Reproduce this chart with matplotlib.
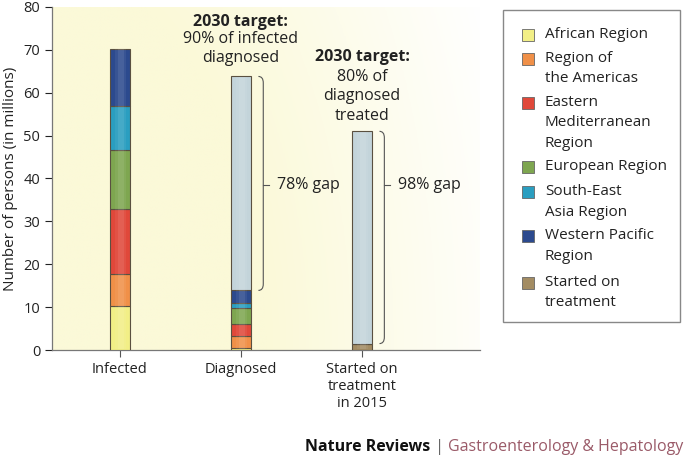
import numpy as np
import matplotlib
matplotlib.use("Agg")
import matplotlib.pyplot as plt
from matplotlib.patches import Rectangle, PathPatch
from matplotlib.path import Path
from matplotlib.colors import LinearSegmentedColormap

plt.rcParams['font.family'] = ['Open Sans', 'DejaVu Sans']

# ---------------- data ----------------
categories = ["Infected", "Diagnosed", "Started on\ntreatment\nin 2015"]
regions = ["African Region", "Region of\nthe Americas", "Eastern\nMediterranean\nRegion",
           "European Region", "South-East\nAsia Region", "Western Pacific\nRegion"]
region_colors = ["#f2ef86", "#f09048", "#e0483a", "#7ea650", "#2a9ec0", "#2c4a8e"]
infected_values = [10.2, 7.5, 15.1, 13.9, 10.2, 13.4]
diagnosed_values = [0.5, 2.8, 2.8, 3.8, 1.1, 2.9]
treated_value = 1.5
treated_label = "Started on\ntreatment"
treated_color = "#a38c63"
diagnosed_target = 63.8
treated_target = 51.0
gap_color = "#c3d4da"
gap_labels = ["78% gap", "98% gap"]
target_titles = ["2030 target:", "2030 target:"]
target_texts = ["90% of infected\ndiagnosed", "80% of\ndiagnosed\ntreated"]
ylabel = "Number of persons (in millions)"
yticks = [0, 10, 20, 30, 40, 50, 60, 70, 80]

# ---------------- figure ----------------
W, H = 685, 459
fig = plt.figure(figsize=(W / 100, H / 100), dpi=100)
fig.patch.set_facecolor("white")
ax = fig.add_axes([52 / W, 1 - 350 / H, (480 - 52) / W, (350 - 7) / H])

# background gradient
nx, ny = 300, 200
gx, gy = np.meshgrid(np.linspace(0, 1, nx), np.linspace(0, 1, ny))
r = np.sqrt((gx * 1.0) ** 2 + (gy * 0.45) ** 2)
val = np.clip(1.0 - (r - 0.5) / 0.6, 0, 1)
cmap = LinearSegmentedColormap.from_list("bg", ["#ffffff", "#fbf9d8"])
ax.imshow(val, cmap=cmap, origin="lower", extent=[0, 1, 0, 1], transform=ax.transAxes,
          aspect="auto", zorder=0, vmin=0, vmax=1)

x = np.arange(len(categories))
bw = 0.165
edge = "#5a5040"

# infected
bottom = 0
for v, c in zip(infected_values, region_colors):
    ax.bar(x[0], v, bw, bottom=bottom, color=c, edgecolor=edge, linewidth=0.8, zorder=3)
    bottom += v
# diagnosed
bottom = 0
for v, c in zip(diagnosed_values, region_colors):
    ax.bar(x[1], v, bw, bottom=bottom, color=c, edgecolor=edge, linewidth=0.8, zorder=3)
    bottom += v
diag_total = bottom
ax.bar(x[1], diagnosed_target - diag_total, bw, bottom=diag_total, color=gap_color,
       edgecolor=edge, linewidth=0.8, zorder=3)
# treated
ax.bar(x[2], treated_value, bw, color=treated_color, edgecolor=edge, linewidth=0.8, zorder=3)
ax.bar(x[2], treated_target - treated_value, bw, bottom=treated_value, color=gap_color,
       edgecolor=edge, linewidth=0.8, zorder=3)

# soft highlights for cylindrical look
for xi, tops in [(x[0], sum(infected_values)), (x[1], diagnosed_target), (x[2], treated_target)]:
    for wf, a in [(0.55, 0.06), (0.3, 0.08)]:
        ax.bar(xi + bw * 0.05, tops - 0.3, bw * wf, bottom=0.15, color="white", alpha=a,
               linewidth=0, zorder=4)


def bracket(xc, top, bot, ytick, label):
    x0 = xc + 0.145
    x1 = xc + 0.185
    xt = xc + 0.235
    rr = 1.5
    verts = [(x0, top), (x1, top), (x1, top - rr),
             (x1, bot + rr), (x1, bot), (x0, bot)]
    codes = [Path.MOVETO, Path.CURVE3, Path.CURVE3, Path.LINETO, Path.CURVE3, Path.CURVE3]
    ax.add_patch(PathPatch(Path(verts, codes), fill=False, edgecolor="#555555",
                           linewidth=0.8, zorder=3))
    ax.plot([x1, xt], [ytick, ytick], color="#555555", linewidth=0.8, zorder=3)
    ax.text(xt + 0.06, ytick, label, ha="left", va="center", fontsize=11.5, color="#222222")


bracket(x[1], diagnosed_target, diag_total, 38.4, gap_labels[0])
bracket(x[2], treated_target, treated_value, 38.4, gap_labels[1])

# target annotations
ax.text(x[1], 76.6, target_titles[0], ha="center", va="center", fontsize=11.5,
        fontweight="bold", color="#222222")
ax.text(x[1], 70.4, target_texts[0], ha="center", va="center",
        fontsize=11.5, color="#222222", linespacing=1.25)
ax.text(x[2], 68.4, target_titles[1], ha="center", va="center", fontsize=11.5,
        fontweight="bold", color="#222222")
ax.text(x[2], 59.2, target_texts[1], ha="center", va="center", fontsize=11.5,
        color="#222222", linespacing=1.28)

ax.set_xlim(-0.56, 2.975)
ax.set_ylim(0, 80)
ax.set_yticks(yticks)
ax.set_xticks(x)
ax.set_xticklabels(categories, fontsize=10.5, color="#222222", linespacing=1.2)
ax.tick_params(axis="y", labelsize=10.5, colors="#222222", length=5, width=0.8, direction="out")
ax.tick_params(axis="x", length=5, width=0.8, direction="out", colors="#555555", labelcolor="#222222")
ax.set_ylabel(ylabel, fontsize=11, color="#222222", labelpad=4)
for s in ["top", "right"]:
    ax.spines[s].set_visible(False)
for s in ["left", "bottom"]:
    ax.spines[s].set_color("#777777")
    ax.spines[s].set_linewidth(0.9)

# ---------------- legend (manual) ----------------
lx0, ly0, lx1, ly1 = 503, 10, 680, 322
fig.patches.append(Rectangle((lx0 / W, 1 - ly1 / H), (lx1 - lx0) / W, (ly1 - ly0) / H,
                             transform=fig.transFigure, facecolor="white",
                             edgecolor="#888888", linewidth=1.0))
entries = list(zip(regions, region_colors)) + [(treated_label, treated_color)]
entry_tops = [27, 51, 95, 159, 184, 228, 275]
for (lab, col), yt in zip(entries, entry_tops):
    fig.patches.append(Rectangle((522 / W, 1 - (yt + 14) / H), 12 / W, 12 / H,
                                 transform=fig.transFigure, facecolor=col,
                                 edgecolor="#666666", linewidth=0.6))
    fig.text(545 / W, 1 - yt / H, lab, ha="left", va="top", fontsize=11,
             color="#222222", linespacing=1.5)

# footer
fs = 11.5
t1 = fig.text(0.5, 1 - 447 / H, "Nature Reviews", fontsize=fs, fontweight="bold",
              color="#111111", ha="left", va="center")
t2 = fig.text(0.5, 1 - 447 / H, " | ", fontsize=fs, color="#666666", ha="left", va="center")
t3 = fig.text(683 / W, 1 - 447 / H, "Gastroenterology & Hepatology", fontsize=fs,
              color="#9a5a68", ha="right", va="center")
fig.canvas.draw()
rend = fig.canvas.get_renderer()
b3 = t3.get_window_extent(rend)
b2 = t2.get_window_extent(rend)
t2.set_x((b3.x0 - b2.width) / W)
b1 = t1.get_window_extent(rend)
t1.set_x((b3.x0 - b2.width - b1.width) / W)

fig.savefig("out.png", dpi=100)
